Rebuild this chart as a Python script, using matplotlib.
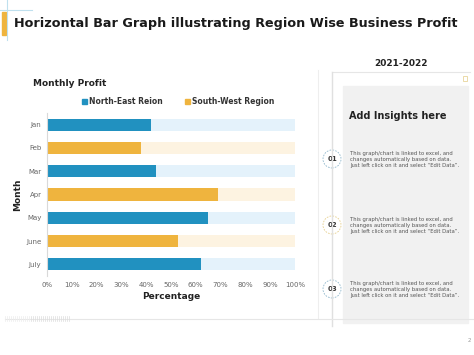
import matplotlib
matplotlib.use("Agg")
import matplotlib.pyplot as plt
from matplotlib.patches import Rectangle, Circle
from matplotlib.lines import Line2D

months = ["Jan", "Feb", "Mar", "Apr", "May", "June", "July"]
values = [42, 38, 44, 69, 65, 53, 62]
regions = ["NE", "SW", "NE", "SW", "NE", "SW", "NE"]
legend_labels = ["North-East Reion", "South-West Region"]
xticks = [0, 10, 20, 30, 40, 50, 60, 70, 80, 90, 100]
xtick_labels = [f"{v}%" for v in xticks]
insight_nums = ["01", "02", "03"]
insight_text = "This graph/chart is linked to excel, and\nchanges automatically based on data.\nJust left click on it and select \u201cEdit Data\u201d."

BLUE = "#2191c0"
YELLOW = "#efb43e"
BLUE_BG = "#e4f2fb"
YELLOW_BG = "#fdf3e1"

W, H = 474, 355
fig = plt.figure(figsize=(W / 100, H / 100), dpi=100)
fig.patch.set_facecolor("white")

def fx(x):
    return x / W

def fy(y):
    return 1 - y / H

# Decorations: title accents
fig.add_artist(Rectangle((fx(2), fy(35)), fx(4), 23 / H, color=YELLOW, transform=fig.transFigure))
fig.add_artist(Line2D([fx(7), fx(7)], [fy(0), fy(40)], color="#bfe0ee", lw=0.8, transform=fig.transFigure))
fig.add_artist(Line2D([fx(0), fx(32)], [fy(10), fy(10)], color="#bfe0ee", lw=0.8, transform=fig.transFigure))
fig.text(fx(14), fy(23), "Horizontal Bar Graph illustrating Region Wise Business Profit",
         fontsize=9.2, fontweight="bold", color="#1a1a1a", va="center", ha="left")

# chart panel faint border
fig.add_artist(Line2D([fx(318), fx(318)], [fy(70), fy(318)], color="#eeeeee", lw=0.8, transform=fig.transFigure))
fig.text(fx(33), fy(84), "Monthly Profit", fontsize=6.5, fontweight="bold", color="#222222", va="center")

# legend
fig.add_artist(Rectangle((fx(82), fy(104)), fx(5), 5 / H, color=BLUE, transform=fig.transFigure))
fig.text(fx(89), fy(101.5), legend_labels[0], fontsize=5.5, fontweight="bold", color="#333333", va="center")
fig.add_artist(Rectangle((fx(185), fy(104)), fx(5), 5 / H, color=YELLOW, transform=fig.transFigure))
fig.text(fx(192), fy(101.5), legend_labels[1], fontsize=5.5, fontweight="bold", color="#333333", va="center")

# main axes
ax = fig.add_axes([fx(47), fy(276), 248 / W, 163 / H])
ypos = list(range(len(months)))
for i, (m, v, r) in enumerate(zip(months, values, regions)):
    fg = BLUE if r == "NE" else YELLOW
    bg = BLUE_BG if r == "NE" else YELLOW_BG
    ax.barh(i, 100, height=0.52, color=bg, zorder=1)
    ax.barh(i, v, height=0.52, color=fg, zorder=2)
ax.set_xlim(0, 100)
ax.set_ylim(len(months) - 0.5, -0.5)
ax.set_yticks(ypos)
ax.set_yticklabels(months, fontsize=5, color="#666666")
ax.set_xticks(xticks)
ax.set_xticklabels(xtick_labels, fontsize=5, color="#666666")
ax.tick_params(length=0, pad=4)
for s in ["top", "right", "bottom"]:
    ax.spines[s].set_visible(False)
ax.spines["left"].set_color("#d9d9d9")
ax.spines["left"].set_linewidth(0.8)
ax.set_xlabel("Percentage", fontsize=6.5, fontweight="bold", color="#222222", labelpad=3)
ax.set_ylabel("Month", fontsize=6.5, fontweight="bold", color="#222222", labelpad=3)

# right panel
fig.text(fx(401), fy(64), "2021-2022", fontsize=6.5, fontweight="bold", color="#222222", ha="center", va="center")
fig.add_artist(Line2D([fx(332), fx(470)], [fy(72), fy(72)], color="#e6e6e6", lw=0.8, transform=fig.transFigure))
fig.add_artist(Line2D([fx(332), fx(332)], [fy(72), fy(326)], color="#e0e0e0", lw=1.0, transform=fig.transFigure))
fig.add_artist(Rectangle((fx(343), fy(323)), (468 - 343) / W, (323 - 86) / H, color="#f1f1f1",
                         transform=fig.transFigure, zorder=0))
fig.text(fx(349), fy(116), "Add Insights here", fontsize=7, fontweight="bold", color="#222222", va="center")
fig.add_artist(Rectangle((fx(463), fy(81)), fx(4), 5 / H, fill=False, ec="#e8d49a", lw=0.6, transform=fig.transFigure))

circle_y = [159, 225, 289]
circle_cols = ["#8fb7cc", "#e6cf8c", "#8fb7cc"]
for num, cy, cc in zip(insight_nums, circle_y, circle_cols):
    ax_c = fig.add_axes([fx(322), fy(cy + 10), 20 / W, 20 / H])
    ax_c.set_xlim(-1, 1)
    ax_c.set_ylim(-1, 1)
    ax_c.set_aspect("equal")
    ax_c.axis("off")
    ax_c.add_patch(Circle((0, 0), 0.9, facecolor="white", edgecolor=cc, lw=0.6, linestyle=(0, (2, 1.5))))
    ax_c.text(0, 0, num, fontsize=5, fontweight="bold", color="#333333", ha="center", va="center")
    fig.text(fx(350), fy(cy), insight_text, fontsize=3.8, color="#555555", va="center", ha="left",
             linespacing=1.25)

# bottom line with hatch
fig.add_artist(Line2D([fx(5), fx(474)], [fy(318.5), fy(318.5)], color="#e6e6e6", lw=0.8, transform=fig.transFigure))
for k in range(0, 65, 2):
    fig.add_artist(Line2D([fx(5 + k), fx(5 + k)], [fy(316), fy(321)],
                          color="#dcdcdc" if k > 25 else "#ececec", lw=0.5, transform=fig.transFigure))
fig.text(fx(469), fy(340), "2", fontsize=4, color="#999999", ha="center", va="center")

fig.savefig("out.png", dpi=100, facecolor="white")
